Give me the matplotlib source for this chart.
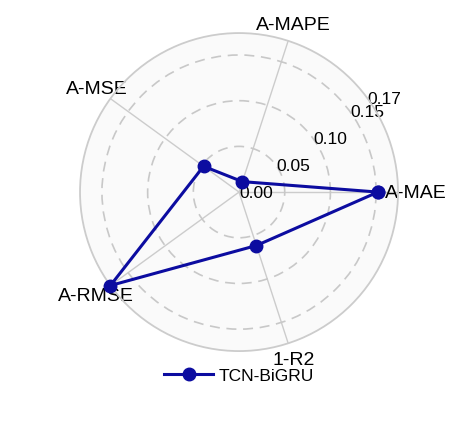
import numpy as np
import matplotlib
matplotlib.use("Agg")
import matplotlib.pyplot as plt

categories = ["A-MAE", "A-MAPE", "A-MSE", "A-RMSE", "1-R2"]
values = [0.152, 0.012, 0.048, 0.174, 0.0615]
series_name = "TCN-BiGRU"
rticks = [0.0, 0.05, 0.10, 0.15, 0.174]
rtick_labels = ["0.00", "0.05", "0.10", "0.15", "0.17"]

plt.rcParams['font.family'] = ['Liberation Sans', 'DejaVu Sans']

fig = plt.figure(figsize=(4.61, 4.39), dpi=100)
ax = fig.add_axes([0.1735, 0.198, 0.69, 0.7244], projection='polar')

n = len(categories)
angles = np.linspace(0, 2 * np.pi, n, endpoint=False)
a_closed = np.concatenate([angles, angles[:1]])
v_closed = values + values[:1]

ax.set_facecolor('#fafafa')
ax.plot(a_closed, v_closed, color='#0c0ca0', linewidth=2.2, marker='o',
        markersize=9, label=series_name, zorder=5, clip_on=False)

ax.set_ylim(0, rticks[-1])
ax.set_yticks(rticks)
ax.set_yticklabels(rtick_labels, fontsize=12.5)
ax.set_rlabel_position(36)
for t in ax.get_yticklabels():
    t.set_va('center')
    t.set_ha('left')
ax.set_xticks(angles)
ax.set_xticklabels(categories, fontsize=14)
ax.tick_params(axis='x', pad=2)

ax.xaxis.grid(True, color='#cccccc', linestyle='-', linewidth=1.0)
ax.yaxis.grid(True, color='#c8c8c8', linestyle=(0, (6, 4)), linewidth=1.2)
gl = ax.yaxis.get_gridlines()
gl[-1].set_visible(False)
ax.spines['polar'].set_color('#cccccc')
ax.spines['polar'].set_linewidth(1.3)

leg = ax.legend(loc='upper center', bbox_to_anchor=(0.5, -0.004), frameon=False,
                fontsize=12.5, handlelength=2.8, handletextpad=0.3)

fig.savefig('out.png', dpi=100)
